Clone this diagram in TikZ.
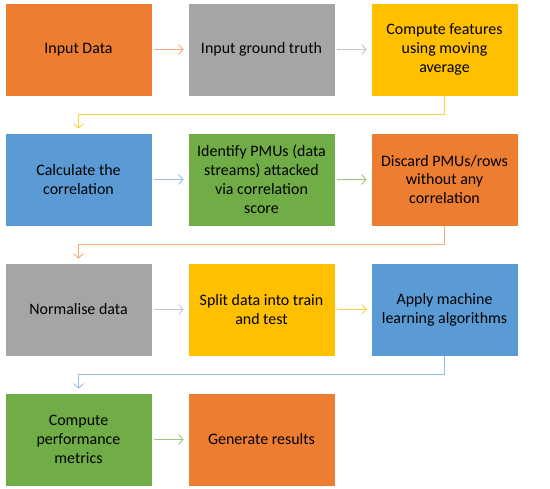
\documentclass[tikz,border=0pt]{standalone}
\usepackage{fontspec}
\setmainfont{Carlito}
\usepackage{tikz}
\usetikzlibrary{calc}
\usetikzlibrary{positioning}
\usetikzlibrary{arrows.meta}
\definecolor{boxOrange}{HTML}{ED7D31}
\definecolor{boxGray}{HTML}{A5A5A5}
\definecolor{boxYellow}{HTML}{FFC000}
\definecolor{boxBlue}{HTML}{5B9BD5}
\definecolor{boxGreen}{HTML}{70AD47}

\begin{document}
\begin{tikzpicture}[x=1bp, y=1bp, >={Straight Barb[length=4.5bp,width=10bp]},
		every node/.style={font=\fontsize{16}{19}\selectfont}]
			\tikzset{etapa/.style={draw=white, line width=0.6bp, minimum width=147bp,
				minimum height=93bp, align=center, inner sep=0pt},
				seta/.style={->, line width=0.9bp}}
			\useasboundingbox (0,0) rectangle (550,489);
			% row 1
			\node[etapa, fill=boxOrange] (r1a) at (78.5,439.5) {Input Data};
			\node[etapa, fill=boxGray] (r1b) at (261.5,439.5) {Input ground truth};
			\node[etapa, fill=boxYellow] (r1c) at (444.5,439.5) {Compute features\\using moving\\average};
			% row 2
			\node[etapa, fill=boxBlue] (r2a) at (78.5,309.5) {Calculate the\\correlation};
			\node[etapa, fill=boxGreen] (r2b) at (261.5,309.5) {Identify PMUs (data\\streams) attacked\\via correlation\\score};
			\node[etapa, fill=boxOrange] (r2c) at (444.5,309.5) {Discard PMUs/rows\\without any\\correlation};
			% row 3
			\node[etapa, fill=boxGray] (r3a) at (78.5,179.5) {Normalise data};
			\node[etapa, fill=boxYellow] (r3b) at (261.5,179.5) {Split data into train\\and test};
			\node[etapa, fill=boxBlue] (r3c) at (444.5,179.5) {Apply machine\\learning algorithms};
			% row 4
			\node[etapa, fill=boxGreen] (r4a) at (78.5,49.5) {Compute\\performance\\metrics};
			\node[etapa, fill=boxOrange] (r4b) at (261.5,49.5) {Generate results};
			% arrows in a row
			\draw[seta, boxOrange!65] ($(r1a.east)+(2,0)$) -- ($(r1b.west)+(-4,0)$);
			\draw[seta, boxGray!65] ($(r1b.east)+(2,0)$) -- ($(r1c.west)+(-4,0)$);
			\draw[seta, boxBlue!65] ($(r2a.east)+(2,0)$) -- ($(r2b.west)+(-4,0)$);
			\draw[seta, boxGreen!70] ($(r2b.east)+(2,0)$) -- ($(r2c.west)+(-4,0)$);
			\draw[seta, boxGray!65] ($(r3a.east)+(2,0)$) -- ($(r3b.west)+(-4,0)$);
			\draw[seta, boxYellow!75] ($(r3b.east)+(2,0)$) -- ($(r3c.west)+(-4,0)$);
			\draw[seta, boxGreen!70] ($(r4a.east)+(2,0)$) -- ($(r4b.west)+(-4,0)$);
			% elbows to next row
			\draw[seta, boxYellow!75] (r1c.south) -- ++(0,-18) -| ($(r2a.north)+(0,4)$);
			\draw[seta, boxOrange!65] (r2c.south) -- ++(0,-18) -| ($(r3a.north)+(0,4)$);
			\draw[seta, boxBlue!65] (r3c.south) -- ++(0,-18) -| ($(r4a.north)+(0,4)$);
		\end{tikzpicture}
\end{document}
